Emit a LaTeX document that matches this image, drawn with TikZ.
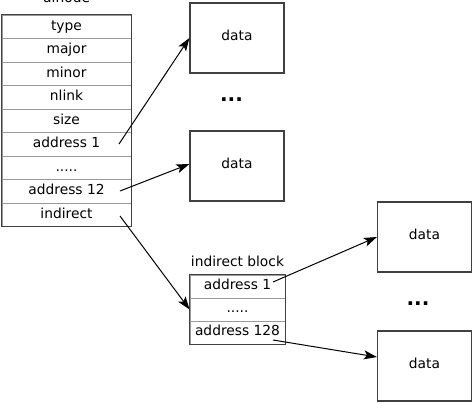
\documentclass[tikz,border=0pt]{standalone}
\usepackage{fontspec}
\setmainfont{DejaVu Sans}
\usepackage{tikz}
\usetikzlibrary{
  arrows.meta,
  positioning,
}
\definecolor{framegray}{HTML}{404040}
\definecolor{rulegray}{HTML}{9A9A9A}
\newcommand{\fivedots}{.....}

\begin{document}
\begin{tikzpicture}[
    x=1pt, y=-1pt,
    every node/.style={font=\fontsize{13.8}{16}\selectfont},
    cell/.style={draw=rulegray, line width=0.8pt, minimum width=129pt, minimum height=23.5pt,
                 inner sep=0pt, text height=10pt, text depth=3pt},
    bcell/.style={cell, minimum width=95pt, minimum height=23pt},
    frame/.style={draw=framegray, line width=1.2pt},
    data/.style={frame, minimum width=94pt, minimum height=70pt, inner sep=0pt, text depth=6pt},
    dots/.style={font=\fontsize{20}{20}\selectfont\bfseries},
    arr/.style={-{Stealth[length=13pt,width=9pt,inset=3pt]}, line width=1pt},
  ]
  \useasboundingbox (0,0) rectangle (474,403);

  % dinode
  \node[anchor=base] (title) at (66.5,2.5) {dinode};
  \foreach \t [count=\i] in {type, major, minor, nlink, size, address 1, \fivedots, address 12, indirect}
    \node[cell] (r\i) at (66.5, {15+23.5*(\i-0.5)}) {\t};
  \draw[frame] (r1.north west) rectangle (r9.south east);

  % indirect block
  \foreach \t [count=\i] in {address 1, \fivedots, address 128}
    \node[bcell] (b\i) at (237.5, {275+23*(\i-0.5)}) {\t};
  \draw[frame] (b1.north west) rectangle (b3.south east);
  \node[anchor=base] (blabel) at (237.5,267) {indirect block};

  % data blocks
  \node[data] (d1) at (237,38) {data};
  \node[data] (d2) at (237,166) {data};
  \node[data] (e1) at (424.5,237) {data};
  \node[data] (e2) at (424.5,366) {data};
  \node[dots] (dots1) at (231.5,100) {...};
  \node[dots] (dots2) at (418,304) {...};

  \coordinate (s1) at (119,144);
  \coordinate (s2) at (120,191);
  \coordinate (s3) at (120,216);
  \coordinate (t1) at (273,282);
  \coordinate (t2) at (273,340);

  \draw[arr] (s1) -- (d1.west);
  \draw[arr] (s2) -- ([yshift=2pt]d2.west);
  \draw[arr] (s3) -- (b2.west);
  \draw[arr] (t1) -- (e1.west);
  \draw[arr] (t2) -- ([yshift=9pt]e2.west);
\end{tikzpicture}
\end{document}
